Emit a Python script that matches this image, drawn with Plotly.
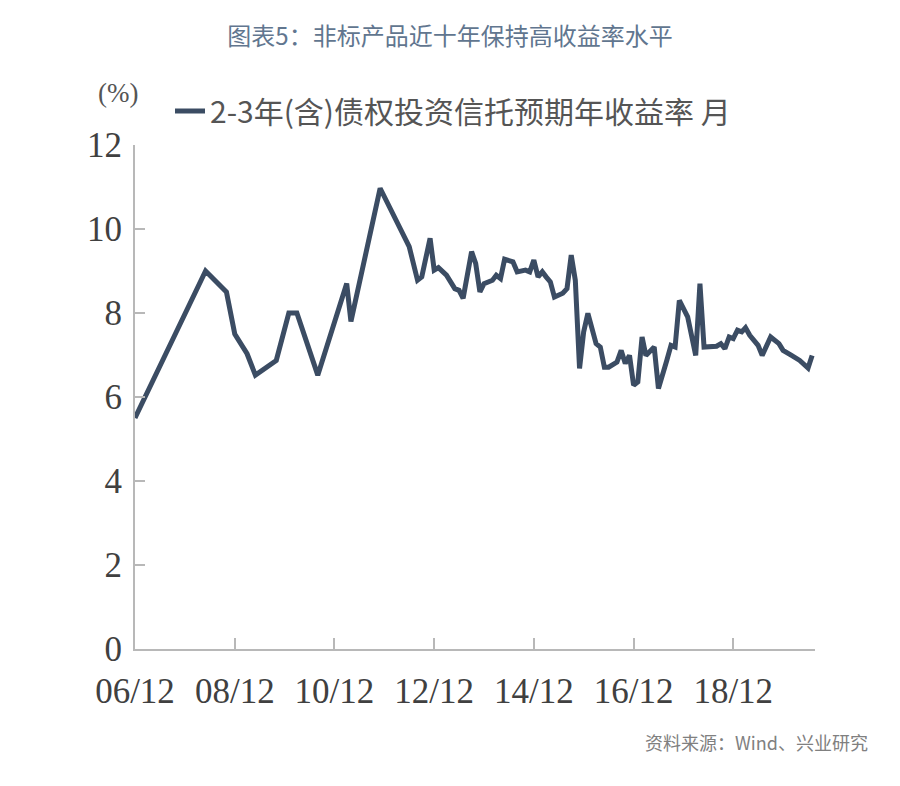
import plotly.graph_objects as go

TITLE = "图表5：非标产品近十年保持高收益率水平"
SERIES_NAME = "2-3年(含)债权投资信托预期年收益率 月"
UNIT = "(%)"
SOURCE = "资料来源：Wind、兴业研究"

DATES = [
    "2006-12", "2008-05", "2008-10", "2008-12", "2009-03", "2009-05", "2009-10",
    "2010-01", "2010-03", "2010-08", "2011-03", "2011-04", "2011-11", "2012-06",
    "2012-08", "2012-09", "2012-11", "2012-12", "2013-01", "2013-03", "2013-05",
    "2013-06", "2013-07", "2013-09", "2013-10", "2013-11", "2013-12", "2014-02",
    "2014-03", "2014-04", "2014-05", "2014-07", "2014-08", "2014-10", "2014-11",
    "2014-12", "2015-01", "2015-02", "2015-03", "2015-04", "2015-05", "2015-07",
    "2015-08", "2015-09", "2015-10", "2015-11", "2015-12", "2016-01", "2016-03",
    "2016-04", "2016-05", "2016-06", "2016-08", "2016-09", "2016-10", "2016-11",
    "2016-12", "2017-01", "2017-02", "2017-03", "2017-05", "2017-06", "2017-08",
    "2017-09", "2017-10", "2017-11", "2018-01", "2018-03", "2018-04", "2018-05",
    "2018-08", "2018-09", "2018-10", "2018-11", "2018-12", "2019-01", "2019-02",
    "2019-03", "2019-04", "2019-06", "2019-07", "2019-09", "2019-11", "2019-12",
    "2020-02", "2020-04", "2020-06", "2020-07",
]
YIELDS = [
    5.5, 9.0, 8.5, 7.5, 7.03, 6.52, 6.87,
    8.0, 8.0, 6.52, 8.7, 7.8, 10.97, 9.58,
    8.78, 8.86, 9.78, 9.02, 9.08, 8.9, 8.58,
    8.54, 8.35, 9.46, 9.18, 8.5, 8.7, 8.78,
    8.9, 8.82, 9.28, 9.22, 8.98, 9.02, 8.98,
    9.26, 8.86, 8.98, 8.86, 8.74, 8.38, 8.47,
    8.58, 9.38, 8.78, 6.68, 7.55, 7.99, 7.27,
    7.19, 6.71, 6.71, 6.83, 7.11, 6.8, 6.99,
    6.28, 6.36, 7.43, 6.99, 7.19, 6.2, 6.87,
    7.23, 7.19, 8.3, 7.91, 6.99, 8.7, 7.19,
    7.21, 7.27, 7.15, 7.43, 7.39, 7.59, 7.55,
    7.65, 7.47, 7.23, 6.99, 7.43, 7.27, 7.11,
    6.99, 6.87, 6.69, 6.99,
]

TICK_DATES = ["2006-12-01", "2008-12-01", "2010-12-01", "2012-12-01",
              "2014-12-01", "2016-12-01", "2018-12-01"]
TICK_LABELS = ["06/12", "08/12", "10/12", "12/12", "14/12", "16/12", "18/12"]
X_RANGE = ["2006-12-01", "2020-07-22"]
Y_TICKS = [0, 2, 4, 6, 8, 10, 12]

LINE_COLOR = "#3b4c63"
AXIS_COLOR = "#b8b8b8"
TICK_FONT = dict(family="Liberation Serif", size=35, color="#404040")

fig = go.Figure()
fig.add_trace(go.Scatter(
    x=[d + "-01" for d in DATES], y=YIELDS, mode="lines", name=SERIES_NAME,
    line=dict(color=LINE_COLOR, width=5), showlegend=True,
))

fig.update_layout(
    width=900, height=786,
    margin=dict(l=135, r=85, t=145, b=137),
    paper_bgcolor="white", plot_bgcolor="white",
    title=dict(text=TITLE, x=0.5, xanchor="center", y=0.953, yanchor="middle",
               font=dict(family="Noto Sans CJK SC", size=24, color="#61768f")),
    showlegend=True,
    legend=dict(x=(170 - 135) / 680, xanchor="left", y=1 + (145 - 111) / 504,
                yanchor="middle", orientation="h", bgcolor="rgba(0,0,0,0)",
                font=dict(family="Noto Sans CJK SC", size=30, color="#555555"),
                itemwidth=30),
    xaxis=dict(
        type="date", range=X_RANGE, tickmode="array", tickvals=TICK_DATES,
        ticktext=TICK_LABELS, showgrid=False, zeroline=False,
        showline=True, linecolor=AXIS_COLOR, linewidth=2,
        ticks="inside", ticklen=11, tickwidth=2, tickcolor=AXIS_COLOR,
        tickfont=TICK_FONT, ticklabelstandoff=10,
    ),
    yaxis=dict(
        range=[0, 12], tickmode="array", tickvals=Y_TICKS, showgrid=False,
        zeroline=False, showline=True, linecolor=AXIS_COLOR, linewidth=2,
        ticks="inside", ticklen=10, tickwidth=2, tickcolor=AXIS_COLOR,
        tickfont=TICK_FONT, ticklabelstandoff=4,
    ),
    annotations=[
        dict(text=UNIT, xref="paper", yref="paper", x=(118 - 135) / 680,
             y=1 + (145 - 93) / 504, xanchor="center", yanchor="middle",
             showarrow=False,
             font=dict(family="Liberation Serif", size=27, color="#555555")),
        dict(text=SOURCE, xref="paper", yref="paper", x=(870 - 135) / 680,
             y=-(742 - 649) / 504, xanchor="right", yanchor="middle",
             showarrow=False,
             font=dict(family="Noto Sans CJK SC", size=18, color="#808080")),
    ],
)

fig.write_html("out.html")
